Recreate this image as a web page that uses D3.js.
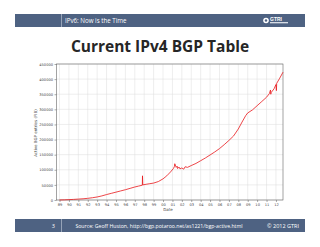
<!DOCTYPE html>
<html>
<head>
<meta charset="utf-8">
<script src="https://cdn.jsdelivr.net/npm/d3@7"></script>
<style>
  html, body { margin: 0; padding: 0; background: #fff; }
  svg { display: block; }
</style>
</head>
<body>
<div id="chart"></div>
<script>
// BGP table size over time (decimal year, active entries)
var years = [1989.0, 1989.5, 1990.0, 1990.5, 1991.0, 1991.5, 1992.0, 1992.5, 1993.0, 1993.5,
  1994.0, 1994.5, 1995.0, 1995.5, 1996.0, 1996.5, 1997.0, 1997.4, 1997.8, 1997.82, 1997.85,
  1998.2, 1998.6, 1999.0, 1999.5, 2000.0, 2000.4, 2000.8, 2001.1, 2001.2, 2001.25, 2001.4,
  2001.5, 2001.55, 2001.7, 2001.8, 2002.0, 2002.2, 2002.35, 2002.6, 2003.0, 2003.5, 2004.0,
  2004.5, 2005.0, 2005.5, 2006.0, 2006.5, 2007.0, 2007.5, 2008.0, 2008.4, 2008.8, 2009.0,
  2009.5, 2010.0, 2010.5, 2011.0, 2011.3, 2011.42, 2011.45, 2011.5, 2011.8, 2012.0, 2012.05,
  2012.08, 2012.4, 2012.75];
var entries = [200, 500, 1200, 2000, 3000, 4000, 5500, 7500, 10000, 13500,
  18000, 22000, 26000, 30000, 34000, 38500, 43000, 46000, 49000, 80000, 50000,
  52000, 54000, 56000, 61000, 70000, 80000, 93000, 104000, 110000, 120000, 108000,
  112000, 104000, 109000, 103000, 106000, 102000, 110000, 108000, 114000, 121000, 130000,
  139000, 149000, 159000, 170000, 183000, 197000, 212000, 235000, 258000, 280000, 288000,
  298000, 312000, 326000, 340000, 352000, 364000, 350000, 356000, 368000, 382000, 362000,
  386000, 403000, 423000];
var yearLabels = ["89", "90", "91", "92", "93", "94", "95", "96", "97", "98", "99", "00",
  "01", "02", "03", "04", "05", "06", "07", "08", "09", "10", "11", "12"];
var yTicks = [0, 50000, 100000, 150000, 200000, 250000, 300000, 350000, 400000, 450000];

var W = 320, H = 247;
var svg = d3.select("#chart").append("svg").attr("width", W).attr("height", H);

// header / footer bars
var barColor = "#4e6282";
svg.append("rect").attr("x", 15).attr("y", 14).attr("width", 290).attr("height", 13).attr("fill", barColor);
svg.append("line").attr("x1", 61.5).attr("x2", 61.5).attr("y1", 14).attr("y2", 27).attr("stroke", "#c8d0dc").attr("stroke-width", 0.6);
svg.append("text").attr("x", 65).attr("y", 22.6).attr("fill", "#fff")
  .attr("font-family", "Open Sans, sans-serif").attr("font-size", 6.2).text("IPv6: Now is the Time");
// logo
var logo = svg.append("g").attr("transform", "translate(266,20.5)");
logo.append("circle").attr("r", 2.8).attr("fill", "#fff");
logo.append("circle").attr("r", 1.2).attr("fill", barColor);
logo.append("text").attr("x", 4).attr("y", 0.6).attr("fill", "#fff").attr("font-weight", "bold")
  .attr("font-family", "Arial, sans-serif").attr("font-size", 5).text("GTRI");
logo.append("rect").attr("x", 4).attr("y", 1.6).attr("width", 18).attr("height", 1.2).attr("fill", "#e6eaf0");

svg.append("rect").attr("x", 15).attr("y", 219).attr("width", 290).attr("height", 13).attr("fill", barColor);
svg.append("line").attr("x1", 61.5).attr("x2", 61.5).attr("y1", 219).attr("y2", 232).attr("stroke", "#c8d0dc").attr("stroke-width", 0.6);
svg.append("text").attr("x", 55).attr("y", 227.6).attr("fill", "#fff").attr("text-anchor", "end")
  .attr("font-family", "Open Sans, sans-serif").attr("font-size", 5.5).text("3");
svg.append("text").attr("x", 159).attr("y", 227.6).attr("fill", "#fff").attr("text-anchor", "middle")
  .attr("font-family", "Open Sans, sans-serif").attr("font-size", 5.2)
  .text("Source: Geoff Huston, http://bgp.potaroo.net/as1221/bgp-active.html");
svg.append("text").attr("x", 299).attr("y", 227.6).attr("fill", "#fff").attr("text-anchor", "end")
  .attr("font-family", "Open Sans, sans-serif").attr("font-size", 5.5).text("\u00a9 2012 GTRI");

// title
svg.append("text").attr("x", 160).attr("y", 51.5).attr("text-anchor", "middle")
  .attr("font-family", "Open Sans, sans-serif").attr("font-weight", "bold").attr("font-size", 15.5)
  .attr("fill", "#262626").text("Current IPv4 BGP Table");

// plot
var plotL = 56.5, plotR = 283, plotT = 64, plotB = 200;
var x = d3.scaleLinear().domain([1988.68, 2012.75]).range([plotL, plotR]);
var y = d3.scaleLinear().domain([0, 450000]).range([plotB, plotT]);
var tickYears = d3.range(1989, 2013);

var g = svg.append("g");
// grid
g.selectAll(".vg").data(tickYears).enter().append("line")
  .attr("x1", function (d) { return x(d); }).attr("x2", function (d) { return x(d); })
  .attr("y1", plotT).attr("y2", plotB).attr("stroke", "#dcdcdc").attr("stroke-width", 0.5);
g.selectAll(".hg").data(yTicks).enter().append("line")
  .attr("x1", plotL).attr("x2", plotR)
  .attr("y1", function (d) { return y(d); }).attr("y2", function (d) { return y(d); })
  .attr("stroke", "#dcdcdc").attr("stroke-width", 0.5);

// axes
var fmtYear = function (d, i) { return yearLabels[i]; };
var xAxis = g.append("g").attr("transform", "translate(0," + plotB + ")")
  .call(d3.axisBottom(x).tickValues(tickYears).tickFormat(fmtYear).tickSize(2).tickPadding(1.5));
var yAxis = g.append("g").attr("transform", "translate(" + plotL + ",0)")
  .call(d3.axisLeft(y).tickValues(yTicks).tickFormat(d3.format("d")).tickSize(2).tickPadding(1.5));
[xAxis, yAxis].forEach(function (a) {
  a.select(".domain").remove();
  a.selectAll("line").attr("stroke", "#555").attr("stroke-width", 0.5);
  a.selectAll("text").attr("font-family", "DejaVu Sans, sans-serif").attr("font-size", 3.6).attr("fill", "#444");
});
g.append("rect").attr("x", plotL).attr("y", plotT).attr("width", plotR - plotL).attr("height", plotB - plotT)
  .attr("fill", "none").attr("stroke", "#666").attr("stroke-width", 0.6);

// data line
var data = years.map(function (d, i) { return [d, entries[i]]; });
g.append("path").datum(data)
  .attr("fill", "none").attr("stroke", "#e8161b").attr("stroke-width", 0.8)
  .attr("d", d3.line().x(function (d) { return x(d[0]); }).y(function (d) { return y(d[1]); }));

// axis titles
svg.append("text").attr("x", 168).attr("y", 210.5).attr("text-anchor", "middle")
  .attr("font-family", "DejaVu Sans, sans-serif").attr("font-size", 4).attr("fill", "#444").text("Date");
svg.append("text").attr("transform", "translate(37,133) rotate(-90)").attr("text-anchor", "middle")
  .attr("font-family", "DejaVu Sans, sans-serif").attr("font-size", 4).attr("fill", "#444")
  .text("Active BGP entries (FIB)");
</script>
</body>
</html>
